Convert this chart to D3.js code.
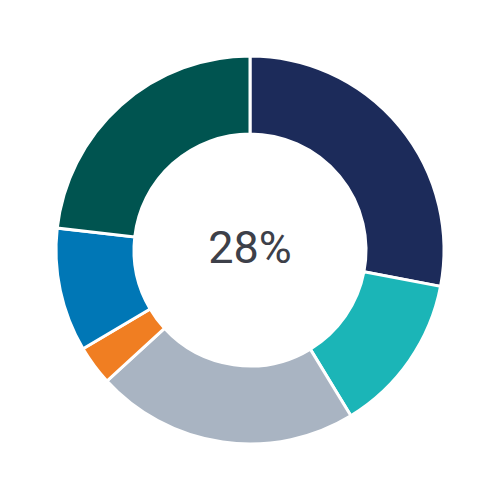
<!DOCTYPE html>
<html>
<head>
<meta charset="utf-8">
<script src="https://cdn.jsdelivr.net/npm/d3@7"></script>
<style>
  body { margin: 0; background: #fff; }
</style>
</head>
<body>
<svg id="chart"></svg>
<script>
const segments = ["Navy", "Teal", "Gray", "Orange", "Blue", "Green"];
const shares = [28, 13.3, 21.9, 3.3, 10.3, 23.2];
const colors = ["#1c2b5a", "#1bb5b7", "#a9b4c2", "#f07e22", "#0077b6", "#005450"];
const centerLabel = "28%";

const width = 500, height = 500;
const svg = d3.select("#chart")
    .attr("width", width)
    .attr("height", height);

const g = svg.append("g")
    .attr("transform", `translate(250, 250)`);

const color = d3.scaleOrdinal().domain(segments).range(colors);

const pie = d3.pie().sort(null).value(d => d.value);
const arc = d3.arc().innerRadius(116).outerRadius(194);

const data = segments.map((s, i) => ({ name: s, value: shares[i] }));

g.selectAll("path")
    .data(pie(data))
    .join("path")
    .attr("d", arc)
    .attr("fill", d => color(d.data.name))
    .attr("stroke", "#fff")
    .attr("stroke-width", 3);

g.append("text")
    .attr("text-anchor", "middle")
    .attr("dy", "0.35em")
    .attr("y", -3)
    .attr("font-family", "Roboto, 'Noto Sans', sans-serif")
    .attr("font-size", "45px")
    .attr("fill", "#3d4049")
    .text(centerLabel);
</script>
</body>
</html>
